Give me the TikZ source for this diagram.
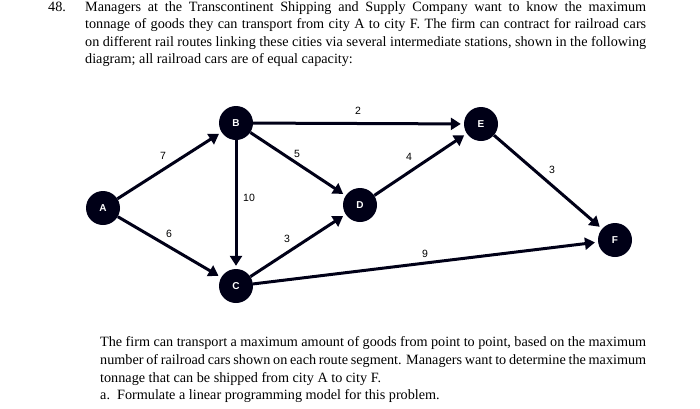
\documentclass[tikz,border=0pt]{standalone}
\usepackage{fontspec}
\setmainfont{Liberation Serif}
\newfontfamily\lsans{Liberation Sans}
\usetikzlibrary{arrows.meta}
\begin{document}
\begin{tikzpicture}[x=1pt,y=-1pt,
  city/.style={circle,fill=black!85!blue!60!black,minimum size=34pt,inner sep=0pt,text=white,font=\lsans\bfseries\fontsize{10}{10}\selectfont},
  route/.style={line width=3pt,draw=black!85!blue!60!black,-{Triangle[length=10pt,width=12pt]},shorten >=3pt},
  wt/.style={font=\lsans\fontsize{10.5}{11}\selectfont,inner sep=1pt}]
\useasboundingbox (0,0) rectangle (700,408);
\node[anchor=north west,inner sep=0pt,font=\fontsize{14.2}{17.6}\selectfont] (t1) at (48,1) {\begin{minipage}[t]{598pt}\hangindent=37pt\hangafter=1\noindent\makebox[37pt][l]{48.}Managers at the Transcontinent Shipping and Supply Company want to know the maximum\linebreak tonnage of goods they can transport from city A to city F. The firm can contract for railroad cars\linebreak on different rail routes linking these cities via several intermediate stations, shown in the following\linebreak diagram; all railroad cars are of equal capacity:\end{minipage}};
\node[anchor=north west,inner sep=0pt,font=\fontsize{14.2}{17.9}\selectfont] (t2) at (100,336) {\begin{minipage}[t]{546pt}\noindent The firm can transport a maximum amount of goods from point to point, based on the maximum\linebreak number of railroad cars shown on each route segment. Managers want to determine the maximum\linebreak tonnage that can be shipped from city A to city F.\\ a.\ \ Formulate a linear programming model for this problem.\end{minipage}};
\node[city] (A) at (103,208) {A};
\node[city] (B) at (236,123) {B};
\node[city] (C) at (236,286) {C};
\node[city] (D) at (360,205) {D};
\node[city] (E) at (481,124) {E};
\node[city] (F) at (615,240) {F};
\draw[route] (A) -- (B);
\draw[route] (A) -- (C);
\draw[route] (B) -- (E);
\draw[route] (B) -- (D);
\draw[route] (B) -- (C);
\draw[route] (C) -- (D);
\draw[route] (D) -- (E);
\draw[route] (E) -- (F);
\draw[route] (C) -- (F);
\node[wt] (w1) at (163,156) {7};
\node[wt] (w2) at (169,234) {6};
\node[wt] (w3) at (358,111) {2};
\node[wt] (w4) at (297,154) {5};
\node[wt] (w5) at (249,198) {10};
\node[wt] (w6) at (287,239) {3};
\node[wt] (w7) at (409,157) {4};
\node[wt] (w8) at (552,170) {3};
\node[wt] (w9) at (425,254) {9};
\end{tikzpicture}
\end{document}
